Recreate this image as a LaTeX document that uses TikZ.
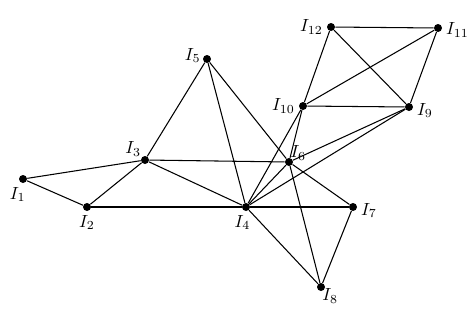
\documentclass[tikz,border=0pt]{standalone}
\usepackage{tikz}
\usetikzlibrary{positioning}

\begin{document}
\begin{tikzpicture}[
    x=0.02cm, y=-0.02cm,
    dot/.style={circle, fill=black, inner sep=0pt, minimum size=0.16cm},
    lbl/.style={font=\normalsize, inner sep=1pt, label distance=1pt},
    edge/.style={line width=0.6pt}
]
\useasboundingbox (0,0) rectangle (474,316);
\node (i1) [dot, label={[lbl, xshift=-3pt]below:$I_1$}] at (23,179) {};
\node (i2) [dot, label={[lbl]below:$I_2$}] at (87,207) {};
\node (i3) [dot, label={[lbl, label distance=-1pt]above left:$I_3$}] at (145,160) {};
\node (i4) [dot, label={[lbl, xshift=-2pt]below:$I_4$}] at (246,207) {};
\node (i5) [dot, label={[lbl, label distance=0pt, yshift=2pt]left:$I_5$}] at (207,59) {};
\node (i6) [dot, label={[lbl, label distance=-3pt]above right:$I_6$}] at (289,162) {};
\node (i7) [dot, label={[lbl, yshift=-2pt]right:$I_7$}] at (353,207) {};
\node (i8) [dot, label={[lbl, label distance=-3pt]below right:$I_8$}] at (321,287) {};
\node (i9) [dot, label={[lbl, yshift=-2pt]right:$I_9$}] at (409,107) {};
\node (i10) [dot, label={[lbl]left:$I_{10}$}] at (303,106) {};
\node (i11) [dot, label={[lbl, yshift=-1pt]right:$I_{11}$}] at (438,28) {};
\node (i12) [dot, label={[lbl]left:$I_{12}$}] at (331,27) {};
\draw [edge] (i1) -- (i2);
\draw [edge] (i1) -- (i3);
\draw [edge] (i2) -- (i3);
\draw [edge] (i2) -- (i4);
\draw [edge] (i3) -- (i4);
\draw [edge] (i3) -- (i5);
\draw [edge] (i3) -- (i6);
\draw [edge] (i5) -- (i4);
\draw [edge] (i5) -- (i6);
\draw [edge] (i4) -- (i6);
\draw [edge] (i4) -- (i10);
\draw [edge] (i4) -- (i9);
\draw [edge] (i4) -- (i7);
\draw [edge] (i4) -- (i8);
\draw [edge] (i6) -- (i7);
\draw [edge] (i6) -- (i8);
\draw [edge] (i6) -- (i9);
\draw [edge] (i6) -- (i10);
\draw [edge] (i7) -- (i8);
\draw [edge] (i10) -- (i9);
\draw [edge] (i10) -- (i12);
\draw [edge] (i10) -- (i11);
\draw [edge] (i12) -- (i11);
\draw [edge] (i12) -- (i9);
\draw [edge] (i11) -- (i9);
\end{tikzpicture}
\end{document}
